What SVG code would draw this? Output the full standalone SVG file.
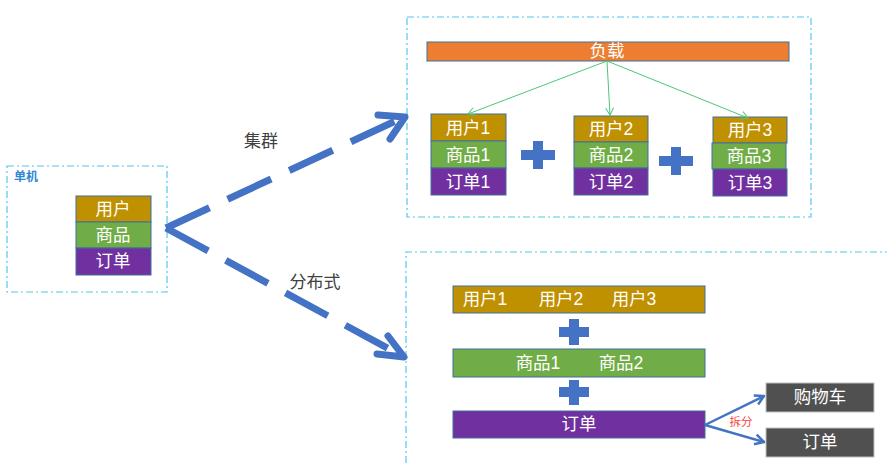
<svg xmlns="http://www.w3.org/2000/svg" width="887" height="463" viewBox="0 0 887 463">
<style>
.frame{fill:none;stroke:#55C5F2;stroke-width:1.2;stroke-dasharray:7 3 2 3}
.box{stroke:#41719C;stroke-width:1}
.gold{fill:#BF9000}
.green{fill:#70AD47}
.purple{fill:#7030A0}
.orange{fill:#ED7D31}
.dark{fill:#505050;stroke:#BFBFBF;stroke-width:1}
.t{font-family:"Liberation Sans","Noto Sans CJK SC",sans-serif;fill:#FFFFFF;font-size:17.5px;text-anchor:middle;dominant-baseline:central}
.lbl{font-family:"Liberation Sans","Noto Sans CJK SC",sans-serif;fill:#404040;font-size:17px;text-anchor:middle;dominant-baseline:central}
.plus{fill:#4472C4}
.big{fill:none;stroke:#4472C4;stroke-width:7;stroke-dasharray:48 20}
.head{fill:none;stroke:#4472C4;stroke-width:7;stroke-linecap:round;stroke-linejoin:round}
.thin{fill:none;stroke:#4CC776;stroke-width:1}
.split{fill:none;stroke:#4472C4;stroke-width:2.5}
</style>
<defs>
<marker id="ga" markerWidth="10" markerHeight="10" refX="8" refY="5" orient="auto" markerUnits="userSpaceOnUse">
<path d="M1,1 L8,5 L1,9" fill="none" stroke="#4CC776" stroke-width="1"/>
</marker>
<marker id="ba" markerWidth="14" markerHeight="14" refX="11" refY="7" orient="auto" markerUnits="userSpaceOnUse">
<path d="M2,2 L11,7 L2,12" fill="none" stroke="#4472C4" stroke-width="2.5" stroke-linejoin="round"/>
</marker>
</defs>

<g id="single">
<rect class="frame" x="7" y="166" width="160" height="126"/>
<text x="26" y="177" font-family="Liberation Sans,Noto Sans CJK SC,sans-serif" font-size="12" font-weight="bold" fill="#2E86D1" text-anchor="middle" dominant-baseline="central">单机</text>
<rect class="box gold" x="76" y="196" width="75" height="26"/>
<text class="t" x="113" y="209">用户</text>
<rect class="box green" x="76" y="222" width="75" height="26"/>
<text class="t" x="113" y="235">商品</text>
<rect class="box purple" x="76" y="248" width="75" height="27"/>
<text class="t" x="113" y="261">订单</text>
</g>

<g id="cluster">
<rect class="frame" x="407" y="17" width="404" height="200"/>
<rect class="box orange" x="427" y="42" width="362" height="19"/>
<text class="t" x="607" y="51">负载</text>
</g>

<g id="node1">
<rect class="box gold" x="431" y="114" width="75" height="27"/>
<text class="t" x="468" y="128">用户1</text>
<rect class="box green" x="431" y="141" width="75" height="27"/>
<text class="t" x="468" y="155">商品1</text>
<rect class="box purple" x="431" y="168" width="75" height="27"/>
<text class="t" x="468" y="182">订单1</text>
</g>
<g id="node2">
<rect class="box gold" x="574" y="116" width="74" height="26"/>
<text class="t" x="611" y="129">用户2</text>
<rect class="box green" x="574" y="142" width="74" height="26"/>
<text class="t" x="611" y="155">商品2</text>
<rect class="box purple" x="574" y="168" width="74" height="27"/>
<text class="t" x="611" y="182">订单2</text>
</g>
<g id="node3">
<rect class="box gold" x="713" y="117" width="74" height="26"/>
<text class="t" x="750" y="130">用户3</text>
<rect class="box green" x="712" y="143" width="74" height="26"/>
<text class="t" x="749" y="156">商品3</text>
<rect class="box purple" x="713" y="169" width="74" height="27"/>
<text class="t" x="750" y="183">订单3</text>
</g>
<g id="plus1"><path class="plus" d="M533,141 h10 v9 h12 v10 h-12 v9 h-10 v-9 h-12 v-10 h12 z"/></g>
<g id="plus2"><path class="plus" d="M671,147 h10 v9 h12 v10 h-12 v9 h-10 v-9 h-12 v-10 h12 z"/></g>

<g id="distributed">
<path class="frame" d="M406,463 V252 H887"/>
<rect class="box gold" x="453" y="286" width="252" height="27"/>
<text class="t" x="485" y="299">用户1</text>
<text class="t" x="561" y="299">用户2</text>
<text class="t" x="634" y="299">用户3</text>
<rect class="box green" x="453" y="349" width="252" height="28"/>
<text class="t" x="538" y="363">商品1</text>
<text class="t" x="621" y="363">商品2</text>
<rect class="box purple" x="453" y="411" width="252" height="27"/>
<text class="t" x="579" y="424">订单</text>
</g>
<g id="plus3"><path class="plus" d="M569,319 h10 v8 h10 v10 h-10 v8 h-10 v-8 h-10 v-10 h10 z"/></g>
<g id="plus4"><path class="plus" d="M569,380 h10 v7 h10 v10 h-10 v8 h-10 v-8 h-10 v-10 h10 z"/></g>
<g id="cart">
<rect class="dark" x="766" y="383" width="108" height="29"/>
<text class="t" x="820" y="397">购物车</text>
</g>
<g id="order">
<rect class="dark" x="766" y="428" width="108" height="29"/>
<text class="t" x="820" y="442">订单</text>
</g>

<g id="connectors">
<path class="big" d="M166,228 L404,117"/>
<path class="head" d="M378,115 L405,117 L390,139"/>
<path class="big" d="M166,228 L402,356"/>
<path class="head" d="M388,336 L404,357 L377,354"/>
<text class="lbl" x="261" y="141">集群</text>
<text class="lbl" x="315" y="282">分布式</text>
<path class="thin" marker-end="url(#ga)" d="M607,61 L468,114"/>
<path class="thin" marker-end="url(#ga)" d="M607,61 L610,115"/>
<path class="thin" marker-end="url(#ga)" d="M607,61 L748,118"/>
<path class="split" marker-end="url(#ba)" d="M705,425 L764,396"/>
<path class="split" marker-end="url(#ba)" d="M705,425 L764,442"/>
<text x="741" y="422" font-family="Liberation Sans,Noto Sans CJK SC,sans-serif" font-size="11.5" fill="#FF3B3B" text-anchor="middle" dominant-baseline="central">拆分</text>
</g>
</svg>
